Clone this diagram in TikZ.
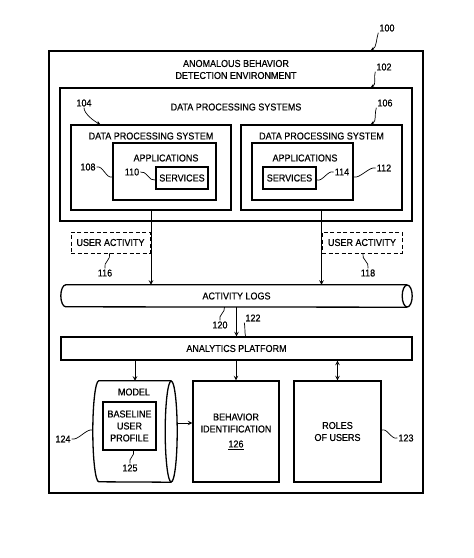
\documentclass[tikz,border=0pt]{standalone}
\usepackage{fontspec}
\setmainfont{Liberation Sans}[FakeStretch=0.9, FakeBold=0.4]
\usetikzlibrary{shapes.geometric, arrows, positioning}
\tikzstyle{frame} = [rectangle, draw=black, line width=1.3pt, inner sep=0pt, text centered]
\tikzstyle{dashbox} = [rectangle, draw=black, line width=0.9pt, dashed, dash pattern=on 4pt off 2.5pt, inner sep=0pt]
\tikzstyle{drum} = [rectangle, inner sep=0pt, text centered]
\tikzstyle{outline} = [draw=black, line width=1.3pt]
\tikzstyle{tag} = [inner sep=1pt]
\tikzstyle{arrow} = [line width=1pt,->,>=stealth]
\tikzstyle{leader} = [line width=0.7pt]
\tikzstyle{tagarrow} = [line width=0.7pt,->,>=stealth]

\begin{document}
\begin{tikzpicture}[x=1pt, y=1pt, font=\fontsize{10}{12}\selectfont]
	\useasboundingbox (0,0) rectangle (474,-558);

	% Nodes
	\node (env) [frame, minimum width=374pt, minimum height=442pt] at (236,-272) {};
	\node (envtitle) [tag, align=center] at (236,-69.5) {ANOMALOUS BEHAVIOR\\DETECTION ENVIRONMENT};
	\node (dps) [frame, minimum width=352pt, minimum height=133pt] at (236,-154.5) {};
	\node (dpstitle) [tag] at (236,-107) {DATA PROCESSING SYSTEMS};
	\node (dpsa) [frame, minimum width=160pt, minimum height=85pt] at (151,-167.5) {};
	\node (dpsb) [frame, minimum width=161pt, minimum height=85pt] at (321.5,-167.5) {};
	\node (dpsatitle) [tag] at (151,-136) {DATA PROCESSING SYSTEM};
	\node (dpsbtitle) [tag] at (321.5,-136) {DATA PROCESSING SYSTEM};
	\node (appa) [frame, minimum width=103pt, minimum height=57pt] at (164.5,-171.5) {};
	\node (appb) [frame, minimum width=101pt, minimum height=57pt] at (302.5,-171.5) {};
	\node (appatitle) [tag] at (166,-158) {APPLICATIONS};
	\node (appbtitle) [tag] at (305,-158) {APPLICATIONS};
	\node (svca) [frame, minimum width=52pt, minimum height=22pt] at (182,-178) {SERVICES};
	\node (svcb) [frame, minimum width=53pt, minimum height=22pt] at (289.5,-178) {SERVICES};
	\node (uaa) [dashbox, minimum width=79pt, minimum height=21pt] at (110.5,-242.5) {USER ACTIVITY};
	\node (uab) [dashbox, minimum width=80pt, minimum height=21pt] at (362,-242.5) {USER ACTIVITY};
	\node (logs) [drum, minimum width=351pt, minimum height=22pt] at (236.5,-296) {ACTIVITY LOGS};
	\node (ana) [frame, minimum width=351pt, minimum height=23pt] at (236.5,-348.5) {ANALYTICS PLATFORM};
	\node (model) [drum, minimum width=84pt, minimum height=101pt] at (135,-431.5) {};
	\node (modeltitle) [tag] at (134,-392) {MODEL};
	\node (base) [frame, minimum width=53pt, minimum height=48pt, align=center] at (129.5,-426) {BASELINE\\USER\\PROFILE};
	\node (behav) [frame, minimum width=86pt, minimum height=101pt, align=center] at (236,-431.5) {BEHAVIOR\\IDENTIFICATION\\[3pt]\underline{126}};
	\node (roles) [frame, minimum width=87pt, minimum height=101pt, align=center] at (337.5,-431.5) {ROLES\\OF USERS};

	% Drum outlines
	\draw [outline] ([xshift=-5pt]logs.east) ellipse (5pt and 11pt);
	\draw [outline] ([xshift=-5pt]logs.north east) -- ([xshift=5pt]logs.north west) arc (90:270:5pt and 11pt) -- ([xshift=-5pt]logs.south east);
	\draw [outline] ([xshift=-6pt]model.east) ellipse (6pt and 50.5pt);
	\draw [outline] ([xshift=-6pt]model.north east) -- ([xshift=6pt]model.north west) arc (90:270:6pt and 50.5pt) -- ([xshift=-6pt]model.south east);

	% Reference numerals
	\node (lab100) [tag] at (387,-28) {100};
	\node (lab102) [tag] at (384,-67) {102};
	\node (lab104) [tag] at (84,-103) {104};
	\node (lab106) [tag] at (385,-103) {106};
	\node (lab108) [tag] at (88,-167) {108};
	\node (lab110) [tag] at (132,-172) {110};
	\node (lab112) [tag] at (384,-168) {112};
	\node (lab114) [tag] at (342,-172) {114};
	\node (lab116) [tag] at (105,-273) {116};
	\node (lab118) [tag] at (368,-273) {118};
	\node (lab120) [tag] at (220,-325) {120};
	\node (lab122) [tag] at (253,-318) {122};
	\node (lab123) [tag] at (406,-438) {123};
	\node (lab124) [tag] at (63,-439) {124};
	\node (lab125) [tag] at (130,-468) {125};

	% Arrows
	\draw [arrow] (dpsa.south) -- (dpsa.south |- logs.north);
	\draw [arrow] (dpsb.south) -- (dpsb.south |- logs.north);
	\draw [arrow] (logs.south) -- (ana.north);
	\draw [arrow] (ana.south -| model.north) -- (model.north);
	\draw [arrow] (ana.south -| behav.north) -- (behav.north);
	\draw [arrow, <->] (ana.south -| roles.north) -- (roles.north);
	\draw [arrow] ([yshift=8.5pt]model.east) -- ([yshift=8.5pt]model.east -| behav.west);

	% Leaders
	\draw [tagarrow] (lab100.south west) .. controls +(-2,-6) and +(6,3) .. ([xshift=-53pt]env.north east);
	\draw [tagarrow] (lab102.south west) .. controls +(-2,-6) and +(6,3) .. ([xshift=-42pt]dps.north east);
	\draw [tagarrow] (lab104.south) .. controls +(0,-6) and +(-6,3) .. ([xshift=30pt]dpsa.north west);
	\draw [tagarrow] (lab106.south west) .. controls +(-2,-6) and +(6,3) .. ([xshift=-32pt]dpsb.north east);
	\draw [leader] (lab108.east) .. controls +(6,2) and +(-6,-2) .. ([yshift=-5.5pt]appa.west);
	\draw [leader] (lab110.east) .. controls +(6,2) and +(-6,-2) .. ([yshift=-2pt]svca.west);
	\draw [leader] (lab112.west) .. controls +(-6,2) and +(6,-2) .. ([yshift=-5.5pt]appb.east);
	\draw [leader] (lab114.west) .. controls +(-6,2) and +(6,-2) .. ([yshift=-2pt]svcb.east);
	\draw [leader] (lab116.north) .. controls +(-2,6) and +(2,-6) .. ([xshift=-1pt]uaa.south);
	\draw [leader] (lab118.north) .. controls +(2,6) and +(-2,-6) .. ([xshift=1pt]uab.south);
	\draw [leader] (lab120.north) .. controls +(-2,5) and +(1,-5) .. ([xshift=-12pt]logs.south);
	\draw [leader] (lab122.south west) .. controls +(1,-5) and +(-1,5) .. ([xshift=9pt]ana.north);
	\draw [leader] (lab123.west) .. controls +(-6,-2) and +(6,2) .. ([yshift=1.5pt]roles.east);
	\draw [leader] (lab124.east) .. controls +(6,-2) and +(-6,2) .. ([yshift=1.5pt]model.west);
	\draw [leader] (lab125.north) .. controls +(-2,5) and +(2,-5) .. ([xshift=4pt]base.south);

\end{tikzpicture}
\end{document}
